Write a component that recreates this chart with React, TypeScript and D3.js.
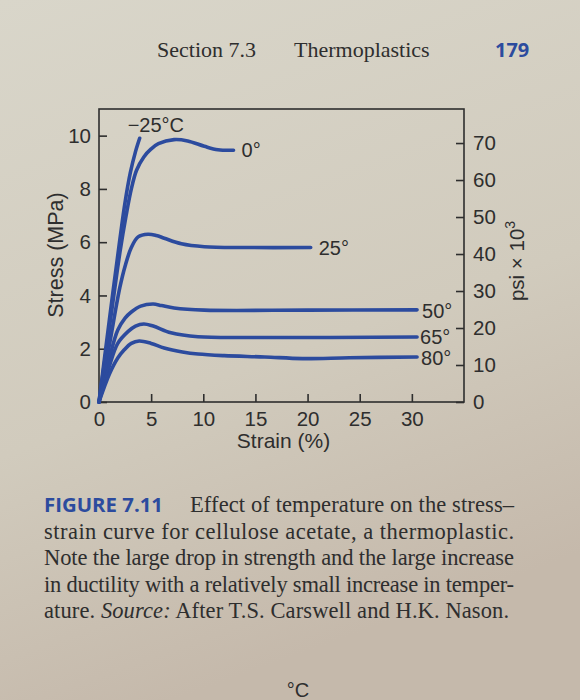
import * as d3 from "d3";
import { useEffect, useRef } from "react";

// curves: strain (%) and stress (MPa)
const strainM25 = [0, 1, 2, 2.5, 3, 3.5, 3.9];
const stressM25 = [0, 3.1, 6.1, 7.5, 8.6, 9.4, 9.9];

const strain0 = [0, 1, 2, 2.6, 3.1, 3.6, 4.3, 5, 5.7, 7.2, 8.5, 10.1, 11.4, 12.9];
const stress0 = [0, 2.8, 5.6, 7.0, 8.0, 8.7, 9.2, 9.5, 9.7, 9.85, 9.8, 9.6, 9.47, 9.45];

const strain25 = [0, 1, 2, 2.5, 3.1, 3.75, 4.7, 5.5, 6.25, 7.9, 10.1, 14, 20.3];
const stress25 = [0, 2.15, 4.3, 5.1, 5.8, 6.2, 6.3, 6.25, 6.15, 5.94, 5.83, 5.8, 5.8];

const strain50 = [0, 1, 1.8, 2.5, 3.1, 4, 5.2, 6, 7.2, 10.1, 20, 30.5];
const stress50 = [0, 1.65, 2.7, 3.15, 3.38, 3.6, 3.68, 3.62, 3.53, 3.45, 3.45, 3.46];

const strain65 = [0, 1, 1.8, 2.8, 3.5, 4.3, 5.2, 6.9, 9.5, 15, 30.5];
const stress65 = [0, 1.35, 2.2, 2.65, 2.85, 2.93, 2.85, 2.6, 2.45, 2.42, 2.44];

const strain80 = [0, 1, 1.8, 2.4, 3.1, 3.85, 5, 6.25, 8, 9.5, 12, 15.9, 19.5, 24, 30.5];
const stress80 = [0, 1.05, 1.65, 1.95, 2.2, 2.29, 2.2, 2.03, 1.88, 1.8, 1.74, 1.69, 1.63, 1.66, 1.69];

const curveLabels = ["\u221225\u00b0C", "0\u00b0", "25\u00b0", "50\u00b0", "65\u00b0", "80\u00b0"];

const strainTicks = [0, 5, 10, 15, 20, 25, 30];
const stressTicks = [0, 2, 4, 6, 8, 10];
const psiTicks = [0, 10, 20, 30, 40, 50, 60, 70];

const captionLines = [
  "Effect of temperature on the stress\u2013",
  "strain curve for cellulose acetate, a thermoplastic.",
  "Note the large drop in strength and the large increase",
  "in ductility with a relatively small increase in temper-",
];

const ink = "#2e2e2e";
const blue = "#2c4b9e";
const sans = "'Liberation Sans', Arial, sans-serif";
const serif = "'Liberation Serif', 'Times New Roman', serif";

function App() {
  const ref = useRef<SVGSVGElement>(null);

  useEffect(() => {
    const svg = d3.select(ref.current);
    svg.selectAll("*").remove();

    // paper
    const defs = svg.append("defs");
    const grad = defs
      .append("linearGradient")
      .attr("id", "paper")
      .attr("x1", 0)
      .attr("y1", 0)
      .attr("x2", 0.3)
      .attr("y2", 1);
    grad.append("stop").attr("offset", 0).attr("stop-color", "#d9d6ca");
    grad.append("stop").attr("offset", 0.6).attr("stop-color", "#d1cbbd");
    grad.append("stop").attr("offset", 1).attr("stop-color", "#c5b9ab");
    svg.append("rect").attr("width", 580).attr("height", 700).attr("fill", "url(#paper)");

    // running head
    svg
      .append("text")
      .attr("x", 157)
      .attr("y", 57)
      .attr("font-family", serif)
      .attr("font-size", 22)
      .attr("fill", ink)
      .text("Section 7.3");
    svg
      .append("text")
      .attr("x", 294)
      .attr("y", 57)
      .attr("font-family", serif)
      .attr("font-size", 22)
      .attr("fill", ink)
      .text("Thermoplastics");
    svg
      .append("text")
      .attr("x", 495)
      .attr("y", 57)
      .attr("font-family", "'Open Sans', sans-serif")
      .attr("font-weight", 700)
      .attr("font-size", 20)
      .attr("fill", blue)
      .text("179");

    const x = d3.scaleLinear().domain([0, 35]).range([99, 464]);
    const y = d3.scaleLinear().domain([0, 11]).range([402, 109]);
    const psi = d3.scaleLinear().domain([0, 79.2]).range([402, 109]);

    // frame
    svg
      .append("rect")
      .attr("x", x(0))
      .attr("y", y(11))
      .attr("width", x(35) - x(0))
      .attr("height", y(0) - y(11))
      .attr("fill", "none")
      .attr("stroke", ink)
      .attr("stroke-width", 1.6);

    const styleAxis = (g: any) => {
      g.select(".domain").remove();
      g.selectAll("line").attr("stroke", ink).attr("stroke-width", 1.6);
      g.selectAll("text")
        .attr("font-family", sans)
        .attr("font-size", 20.5)
        .attr("fill", ink);
    };

    svg
      .append("g")
      .attr("transform", `translate(${x(0)},0)`)
      .call(d3.axisLeft(y).tickValues(stressTicks).tickSize(-8).tickPadding(8))
      .call(styleAxis);

    svg
      .append("g")
      .attr("transform", `translate(0,${y(0)})`)
      .call(d3.axisBottom(x).tickValues(strainTicks).tickSize(-8).tickPadding(9))
      .call(styleAxis);

    svg
      .append("g")
      .attr("transform", `translate(${x(35)},0)`)
      .call(d3.axisRight(psi).tickValues(psiTicks).tickSize(-8).tickPadding(9))
      .call(styleAxis);

    // axis titles
    svg
      .append("text")
      .attr("transform", `translate(${x(17.5) + 2},448)`)
      .attr("text-anchor", "middle")
      .attr("font-family", sans)
      .attr("font-size", 21)
      .attr("fill", ink)
      .text("Strain (%)");

    svg
      .append("text")
      .attr("transform", "translate(63,255) rotate(-90)")
      .attr("text-anchor", "middle")
      .attr("font-family", sans)
      .attr("font-size", 21.5)
      .attr("fill", ink)
      .text("Stress (MPa)");

    const psiTitle = svg
      .append("text")
      .attr("transform", "translate(524,261) rotate(-90)")
      .attr("text-anchor", "middle")
      .attr("font-family", sans)
      .attr("font-size", 20.5)
      .attr("fill", ink);
    psiTitle.append("tspan").text("psi \u00d7 10");
    psiTitle.append("tspan").attr("dy", -9).attr("font-size", 14).text("3");

    // curves
    const series = [
      [strainM25, stressM25],
      [strain0, stress0],
      [strain25, stress25],
      [strain50, stress50],
      [strain65, stress65],
      [strain80, stress80],
    ];
    const line = d3
      .line<[number, number]>()
      .x((d) => x(d[0]))
      .y((d) => y(d[1]))
      .curve(d3.curveCatmullRom.alpha(0.5));

    // label offsets from each curve's last point
    const labelOffsets = [
      [-12, -6],
      [8, 7],
      [8, 7],
      [5, 8],
      [3, 7],
      [4, 8],
    ];

    series.forEach(([sx, sy], i) => {
      const pts = sx.map((v, j) => [v, sy[j]] as [number, number]);
      svg
        .append("path")
        .attr("d", line(pts))
        .attr("fill", "none")
        .attr("stroke", blue)
        .attr("stroke-width", 3.6)
        .attr("stroke-linecap", "round")
        .attr("stroke-linejoin", "round");
      const last = pts[pts.length - 1];
      svg
        .append("text")
        .attr("x", x(last[0]) + labelOffsets[i][0])
        .attr("y", y(last[1]) + labelOffsets[i][1])
        .attr("font-family", sans)
        .attr("font-size", 20)
        .attr("fill", ink)
        .text(curveLabels[i]);
    });

    // caption
    svg
      .append("text")
      .attr("x", 44)
      .attr("y", 512)
      .attr("font-family", "'Open Sans', sans-serif")
      .attr("font-weight", 700)
      .attr("font-size", 20)
      .attr("fill", blue)
      .attr("textLength", 119)
      .attr("lengthAdjust", "spacingAndGlyphs")
      .text("FIGURE 7.11");

    captionLines.forEach((t, i) => {
      const x0 = i === 0 ? 190 : 44;
      svg
        .append("text")
        .attr("x", x0)
        .attr("y", 512 + i * 26.6)
        .attr("font-family", serif)
        .attr("font-size", 22.5)
        .attr("fill", ink)
        .attr("textLength", 514 - x0)
        .attr("lengthAdjust", "spacing")
        .text(t);
    });

    const last = svg
      .append("text")
      .attr("x", 44)
      .attr("y", 512 + 4 * 26.6)
      .attr("font-family", serif)
      .attr("font-size", 22.5)
      .attr("fill", ink)
      .attr("textLength", 465)
      .attr("lengthAdjust", "spacing");
    last.append("tspan").text("ature. ");
    last.append("tspan").attr("font-style", "italic").text("Source:");
    last.append("tspan").text(" After T.S. Carswell and H.K. Nason.");

    svg
      .append("text")
      .attr("x", 298)
      .attr("y", 697)
      .attr("text-anchor", "middle")
      .attr("font-family", sans)
      .attr("font-size", 20)
      .attr("fill", ink)
      .text("\u00b0C");
  }, []);

  return (
    <svg
      ref={ref}
      width={580}
      height={700}
      style={{ position: "absolute", left: 0, top: 0 }}
    />
  );
}

export default App;
